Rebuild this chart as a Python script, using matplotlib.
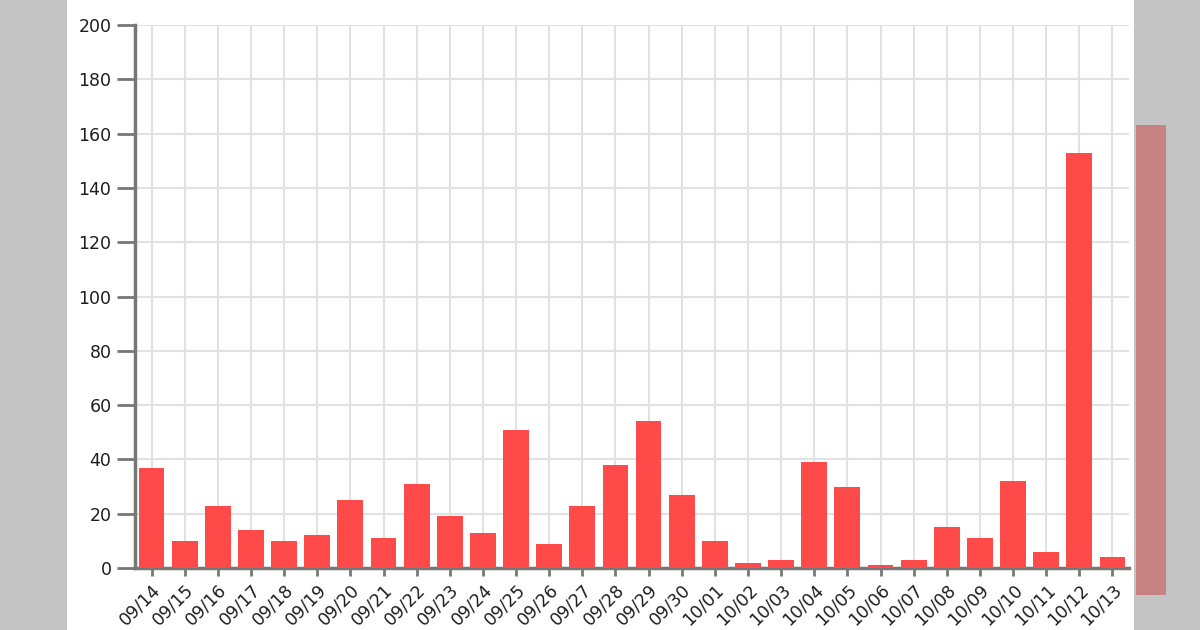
import matplotlib.pyplot as plt
from matplotlib.patches import Rectangle

dates = ["09/14", "09/15", "09/16", "09/17", "09/18", "09/19", "09/20", "09/21",
         "09/22", "09/23", "09/24", "09/25", "09/26", "09/27", "09/28", "09/29",
         "09/30", "10/01", "10/02", "10/03", "10/04", "10/05", "10/06", "10/07",
         "10/08", "10/09", "10/10", "10/11", "10/12", "10/13"]
counts = [37, 10, 23, 14, 10, 12, 25, 11, 31, 19, 13, 51, 9, 23, 38, 54,
          27, 10, 2, 3, 39, 30, 1, 3, 15, 11, 32, 6, 153, 4]
y_ticks = [0, 20, 40, 60, 80, 100, 120, 140, 160, 180, 200]

AXIS_GREY = "#777777"
GRID_GREY = "#e2e2e2"
BAR_RED = "#ff4a4a"
TEXT = "#1e1e1e"

fig = plt.figure(figsize=(12, 6.3), dpi=100, facecolor="#c4c4c4")

# white card behind the chart, blurred-looking grey on both sides
fig.patches.append(Rectangle((67 / 1200, 0), (1134 - 67) / 1200, 1,
                             transform=fig.transFigure, facecolor="white",
                             edgecolor="none", zorder=-5))
fig.patches.append(Rectangle((1136 / 1200, 35 / 630), 30 / 1200, 470 / 630,
                             transform=fig.transFigure, facecolor="#c96666",
                             edgecolor="none", alpha=0.7, zorder=-5))

ax = fig.add_axes([135 / 1200, 1 - 568 / 630, (1129 - 135) / 1200, (568 - 25) / 630])
ax.set_facecolor("none")

x = range(len(dates))
ax.bar(x, counts, width=0.78, color=BAR_RED, edgecolor="none", zorder=3)

ax.set_xlim(-0.5, len(dates) - 0.5)
ax.set_ylim(0, 200)
ax.set_yticks(y_ticks)
ax.set_xticks(list(x))
ax.set_xticklabels(dates, rotation=45, ha="right", va="top",
                   rotation_mode="anchor", fontsize=12.5, color=TEXT)
ax.tick_params(axis="y", labelsize=12.5, labelcolor=TEXT, length=13, pad=4)
ax.tick_params(axis="x", length=6, pad=3)
ax.tick_params(axis="both", color=AXIS_GREY, width=2, direction="out")

ax.grid(True, color=GRID_GREY, linewidth=1.5, zorder=0)
ax.set_axisbelow(True)

for side in ("top", "right"):
    ax.spines[side].set_visible(False)
for side in ("left", "bottom"):
    ax.spines[side].set_color(AXIS_GREY)
    ax.spines[side].set_linewidth(2.5)

fig.savefig("out.png", dpi=100, facecolor=fig.get_facecolor())
